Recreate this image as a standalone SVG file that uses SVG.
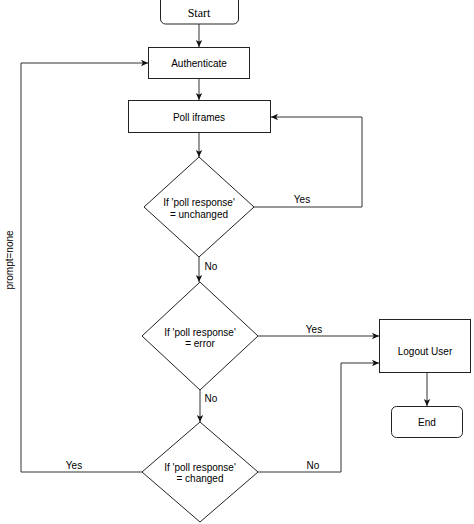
<svg xmlns="http://www.w3.org/2000/svg" width="474" height="524" viewBox="0 0 474 524">
<defs>
<style>
.box{fill:#fff;stroke:#222;stroke-width:1}
.ln{fill:none;stroke:#333;stroke-width:1}
.t{font-family:"Liberation Sans",Arial,sans-serif;font-size:10px;fill:#000;text-anchor:middle}
.s{font-family:"Liberation Serif","Times New Roman",serif;font-size:12px;fill:#000;text-anchor:middle}
</style>
<marker id="ah" markerWidth="8" markerHeight="8" refX="7" refY="4" orient="auto" markerUnits="userSpaceOnUse">
<path d="M0,0.8 L7,4 L0,7.2 L1.8,4 Z" fill="#111"/>
</marker>
</defs>
<rect width="474" height="524" fill="#fff"/>
<g id="connectors">
<path class="ln" d="M199,24 V47" marker-end="url(#ah)"/>
<path class="ln" d="M199,78 V100" marker-end="url(#ah)"/>
<path class="ln" d="M199,133 V157" marker-end="url(#ah)"/>
<path class="ln" d="M254,207 H362 V117 H271" marker-end="url(#ah)"/>
<path class="ln" d="M199,257 V282" marker-end="url(#ah)"/>
<path class="ln" d="M258,336 H379" marker-end="url(#ah)"/>
<path class="ln" d="M200,390 V422" marker-end="url(#ah)"/>
<path class="ln" d="M142,472 H21 V63 H148" marker-end="url(#ah)"/>
<path class="ln" d="M258,472 H341 V363 H379" marker-end="url(#ah)"/>
<path class="ln" d="M427,372 V406" marker-end="url(#ah)"/>
<text class="t" x="302" y="203">Yes</text>
<text class="t" x="211" y="270">No</text>
<text class="t" x="314" y="333">Yes</text>
<text class="t" x="211" y="402">No</text>
<text class="t" x="74" y="469">Yes</text>
<text class="t" x="313" y="469">No</text>
<text class="t" transform="translate(13,260) rotate(-90)">prompt=none</text>
</g>
<g id="start">
<rect class="box" x="160.5" y="-8" width="78" height="32" rx="5"/>
<text class="s" x="199" y="17">Start</text>
</g>
<g id="authenticate">
<rect class="box" x="148.5" y="47.5" width="101" height="31"/>
<text class="t" x="199" y="67">Authenticate</text>
</g>
<g id="poll">
<rect class="box" x="128.5" y="100.5" width="142" height="32"/>
<text class="t" x="199" y="121">Poll iframes</text>
</g>
<g id="d1">
<path class="box" d="M199,157 L254,207 L199,257 L144,207 Z"/>
<text class="t" x="199" y="206">If 'poll response'</text>
<text class="t" x="199" y="218">= unchanged</text>
</g>
<g id="d2">
<path class="box" d="M200,282 L258,336 L200,390 L142,336 Z"/>
<text class="t" x="200" y="336">If 'poll response'</text>
<text class="t" x="200" y="347">= error</text>
</g>
<g id="d3">
<path class="box" d="M200,422 L258,472 L200,522 L142,472 Z"/>
<text class="t" x="200" y="471">If 'poll response'</text>
<text class="t" x="200" y="482">= changed</text>
</g>
<g id="logout">
<rect class="box" x="379.5" y="319.5" width="91" height="53"/>
<text class="t" x="425" y="355">Logout User</text>
</g>
<g id="end">
<rect class="box" x="391.5" y="406.5" width="71" height="31" rx="5"/>
<text class="t" x="427" y="426">End</text>
</g>
</svg>
